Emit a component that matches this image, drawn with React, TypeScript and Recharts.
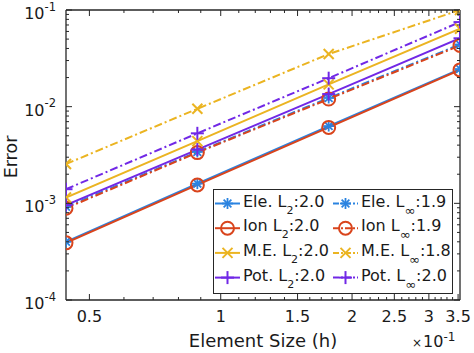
import React from 'react';
import { LineChart, Line, XAxis, YAxis, Legend, Label } from 'recharts';

// Element size h (in units of 1e-1)
const hValues = [0.4419, 0.8839, 1.7678, 3.5355];

const eleL2 = [4.0e-4, 1.6e-3, 6.3e-3, 0.0245];
const eleLinf = [9.2e-4, 3.4e-3, 0.0123, 0.044];
const ionL2 = [3.9e-4, 1.55e-3, 6.1e-3, 0.024];
const ionLinf = [8.9e-4, 3.35e-3, 0.012, 0.043];
const meL2 = [1.15e-3, 4.4e-3, 0.017, 0.064];
const meLinf = [2.55e-3, 9.5e-3, 0.035, 0.1];
const potL2 = [9.6e-4, 3.6e-3, 0.0135, 0.051];
const potLinf = [1.4e-3, 5.3e-3, 0.0197, 0.075];

const xMajorTicks = [0.5, 1, 1.5, 2, 2.5, 3, 3.5];
const xMajorLabels = ['0.5', '1', '1.5', '2', '2.5', '3', '3.5'];
const xMinorTicks = [0.6, 0.7, 0.8, 0.9, 1.1, 1.2, 1.3, 1.4, 1.6, 1.7, 1.8, 1.9, 2.1, 2.2, 2.3, 2.4, 2.6, 2.7, 2.8, 2.9, 3.1, 3.2, 3.3, 3.4];
const yMajorTicks = [1e-4, 1e-3, 1e-2, 1e-1];
const yMajorExponents = ['-4', '-3', '-2', '-1'];
const yMinorTicks = [
  2e-4, 3e-4, 4e-4, 5e-4, 6e-4, 7e-4, 8e-4, 9e-4,
  2e-3, 3e-3, 4e-3, 5e-3, 6e-3, 7e-3, 8e-3, 9e-3,
  2e-2, 3e-2, 4e-2, 5e-2, 6e-2, 7e-2, 8e-2, 9e-2,
];

const seriesNames = ['Ele.', 'Ion', 'M.E.', 'Pot.'];
const l2Rates = ['2.0', '2.0', '2.0', '2.0'];
const linfRates = ['1.9', '1.9', '1.8', '2.0'];
const seriesColors = ['#2a83e0', '#d9441c', '#ebb421', '#7128e6'];
const seriesMarkers = ['star', 'circle', 'x', 'plus'];

const l2Data = [eleL2, ionL2, meL2, potL2];
const linfData = [eleLinf, ionLinf, meLinf, potLinf];

const data = hValues.map((h, i) => {
  const row: any = { h };
  seriesNames.forEach((_, s) => {
    row['l2_' + s] = l2Data[s][i];
    row['linf_' + s] = linfData[s][i];
  });
  return row;
});

const DASH = '8 3 2 3';
const AXIS = '#262626';
const FONT = 'DejaVu Sans';

function MarkerShape({ cx, cy, kind, color }: any) {
  if (cx == null || cy == null) return null;
  if (kind === 'star') {
    const r = 5.5;
    const d = r * 0.707;
    return (
      <g stroke={color} strokeWidth={1.8}>
        <line x1={cx - r} y1={cy} x2={cx + r} y2={cy} />
        <line x1={cx} y1={cy - r} x2={cx} y2={cy + r} />
        <line x1={cx - d} y1={cy - d} x2={cx + d} y2={cy + d} />
        <line x1={cx - d} y1={cy + d} x2={cx + d} y2={cy - d} />
      </g>
    );
  }
  if (kind === 'circle') {
    return <circle cx={cx} cy={cy} r={6.5} fill="none" stroke={color} strokeWidth={2} />;
  }
  if (kind === 'x') {
    const r = 5;
    return (
      <g stroke={color} strokeWidth={2}>
        <line x1={cx - r} y1={cy - r} x2={cx + r} y2={cy + r} />
        <line x1={cx - r} y1={cy + r} x2={cx + r} y2={cy - r} />
      </g>
    );
  }
  const r = 6.5;
  return (
    <g stroke={color} strokeWidth={2}>
      <line x1={cx - r} y1={cy} x2={cx + r} y2={cy} />
      <line x1={cx} y1={cy - r} x2={cx} y2={cy + r} />
    </g>
  );
}

function BottomTick(props: any) {
  const { x, y, payload } = props;
  const mi = xMajorTicks.indexOf(payload.value);
  const major = mi >= 0;
  return (
    <g>
      <line x1={x} y1={y} x2={x} y2={y - (major ? 6 : 3)} stroke={AXIS} strokeWidth={1} />
      {major && (
        <text x={x} y={y + 22} textAnchor="middle" fontSize={16} fill="#1a1a1a" fontFamily={FONT}>
          {xMajorLabels[mi]}
        </text>
      )}
    </g>
  );
}

function TopTick(props: any) {
  const { x, y, payload } = props;
  const major = xMajorTicks.indexOf(payload.value) >= 0;
  return <line x1={x} y1={y} x2={x} y2={y + (major ? 6 : 3)} stroke={AXIS} strokeWidth={1} />;
}

function LeftTick(props: any) {
  const { x, y, payload } = props;
  const mi = yMajorTicks.indexOf(payload.value);
  const major = mi >= 0;
  return (
    <g>
      <line x1={x} y1={y} x2={x + (major ? 6 : 3)} y2={y} stroke={AXIS} strokeWidth={1} />
      {major && (
        <text x={x - 10} y={y + 9} textAnchor="end" fontSize={16} fill="#1a1a1a" fontFamily={FONT}>
          10
          <tspan dy={-8.5} fontSize={11.5}>{yMajorExponents[mi]}</tspan>
        </text>
      )}
    </g>
  );
}

function RightTick(props: any) {
  const { x, y, payload } = props;
  const major = yMajorTicks.indexOf(payload.value) >= 0;
  return <line x1={x} y1={y} x2={x - (major ? 6 : 3)} y2={y} stroke={AXIS} strokeWidth={1} />;
}

function XAxisTitle(props: any) {
  const vb = props.viewBox || { x: 66, y: 300, width: 394 };
  return (
    <g fontFamily={FONT} fill="#1a1a1a">
      <text x={vb.x + vb.width / 2} y={vb.y + 47} textAnchor="middle" fontSize={18}>
        Element Size (h)
      </text>
      <text x={vb.x + vb.width - 48} y={vb.y + 47} textAnchor="start" fontSize={16}>
        <tspan fontSize={12}>×</tspan>
        <tspan dx={1}>10</tspan>
        <tspan dy={-6} fontSize={12}>-1</tspan>
      </text>
    </g>
  );
}

function YAxisTitle(props: any) {
  const vb = props.viewBox || { x: 8, y: 10, height: 290 };
  const cy = vb.y + vb.height / 2 + 2;
  return (
    <text
      x={17}
      y={cy}
      transform={`rotate(-90 17 ${cy})`}
      textAnchor="middle"
      fontSize={17.5}
      fontFamily={FONT}
      fill="#1a1a1a"
    >
      Error
    </text>
  );
}

function LegendEntry({ x, y, s, inf }: any) {
  const color = seriesColors[s];
  return (
    <g>
      <line x1={x} y1={y} x2={x + 25} y2={y} stroke={color} strokeWidth={2} strokeDasharray={inf ? '6 2 2 2' : undefined} />
      <MarkerShape cx={x + 12.5} cy={y} kind={seriesMarkers[s]} color={color} />
      <text x={x + 28} y={y + 3} fontSize={16} fontFamily={FONT} fill="#1a1a1a">
        {seriesNames[s]} L
        <tspan dy={inf ? 8 : 7} fontSize={inf ? 13 : 11}>{inf ? '∞' : '2'}</tspan>
        <tspan dy={inf ? -8 : -7}>:{inf ? linfRates[s] : l2Rates[s]}</tspan>
      </text>
    </g>
  );
}

function LegendBox() {
  return (
    <svg width={240} height={105} style={{ display: 'block' }}>
      <rect x={0.5} y={0.5} width={239} height={104} fill="#ffffff" stroke="#262626" strokeWidth={1} />
      {seriesNames.map((_, s) => (
        <g key={s}>
          <LegendEntry x={2} y={14.5 + s * 24.7} s={s} inf={false} />
          <LegendEntry x={120} y={14.5 + s * 24.7} s={s} inf={true} />
        </g>
      ))}
    </svg>
  );
}

export default function App() {
  const lines: any[] = [];
  seriesNames.forEach((_, s) => {
    ['l2', 'linf'].forEach((kind) => {
      const key = kind + '_' + s;
      const color = seriesColors[s];
      lines.push(
        <Line
          key={key}
          dataKey={key}
          type="linear"
          stroke={color}
          strokeWidth={2}
          strokeDasharray={kind === 'linf' ? DASH : undefined}
          isAnimationActive={false}
          activeDot={false}
          dot={(p: any) => (
            <MarkerShape key={key + '-' + p.index} cx={p.cx} cy={p.cy} kind={seriesMarkers[s]} color={color} />
          )}
        />
      );
    });
  });

  return (
    <div style={{ position: 'absolute', left: 0, top: 0, width: 474, height: 353, background: '#ffffff', fontFamily: FONT }}>
      <LineChart width={474} height={353} data={data} margin={{ top: 9, right: 13, bottom: 10, left: 8 }}>
        <XAxis
          dataKey="h"
          type="number"
          scale="log"
          domain={[hValues[0], hValues[3]]}
          allowDataOverflow
          ticks={[...xMajorTicks, ...xMinorTicks]}
          interval={0}
          tickSize={0}
          tickMargin={0}
          tickLine={false}
          axisLine={{ stroke: AXIS, strokeWidth: 1.3 }}
          tick={<BottomTick />}
          height={43}
        >
          <Label content={<XAxisTitle />} />
        </XAxis>
        <XAxis
          xAxisId="top"
          orientation="top"
          dataKey="h"
          type="number"
          scale="log"
          domain={[hValues[0], hValues[3]]}
          allowDataOverflow
          ticks={[...xMajorTicks, ...xMinorTicks]}
          interval={0}
          tickSize={0}
          tickMargin={0}
          tickLine={false}
          axisLine={{ stroke: AXIS, strokeWidth: 1.3 }}
          tick={<TopTick />}
          height={1}
        />
        <YAxis
          type="number"
          scale="log"
          domain={[1e-4, 1e-1]}
          allowDataOverflow
          ticks={[...yMajorTicks, ...yMinorTicks]}
          interval={0}
          tickSize={0}
          tickMargin={0}
          tickLine={false}
          axisLine={{ stroke: AXIS, strokeWidth: 1.3 }}
          tick={<LeftTick />}
          width={58}
        >
          <Label content={<YAxisTitle />} />
        </YAxis>
        <YAxis
          yAxisId="right"
          orientation="right"
          type="number"
          scale="log"
          domain={[1e-4, 1e-1]}
          allowDataOverflow
          ticks={[...yMajorTicks, ...yMinorTicks]}
          interval={0}
          tickSize={0}
          tickMargin={0}
          tickLine={false}
          axisLine={{ stroke: AXIS, strokeWidth: 1.3 }}
          tick={<RightTick />}
          width={1}
        />
        {lines}
        <Legend
          layout="vertical"
          align="center"
          verticalAlign="middle"
          content={() => <LegendBox />}
          wrapperStyle={{ position: 'absolute', left: 213, top: 189, width: 240, height: 105, margin: 0, padding: 0 }}
        />
      </LineChart>
    </div>
  );
}
